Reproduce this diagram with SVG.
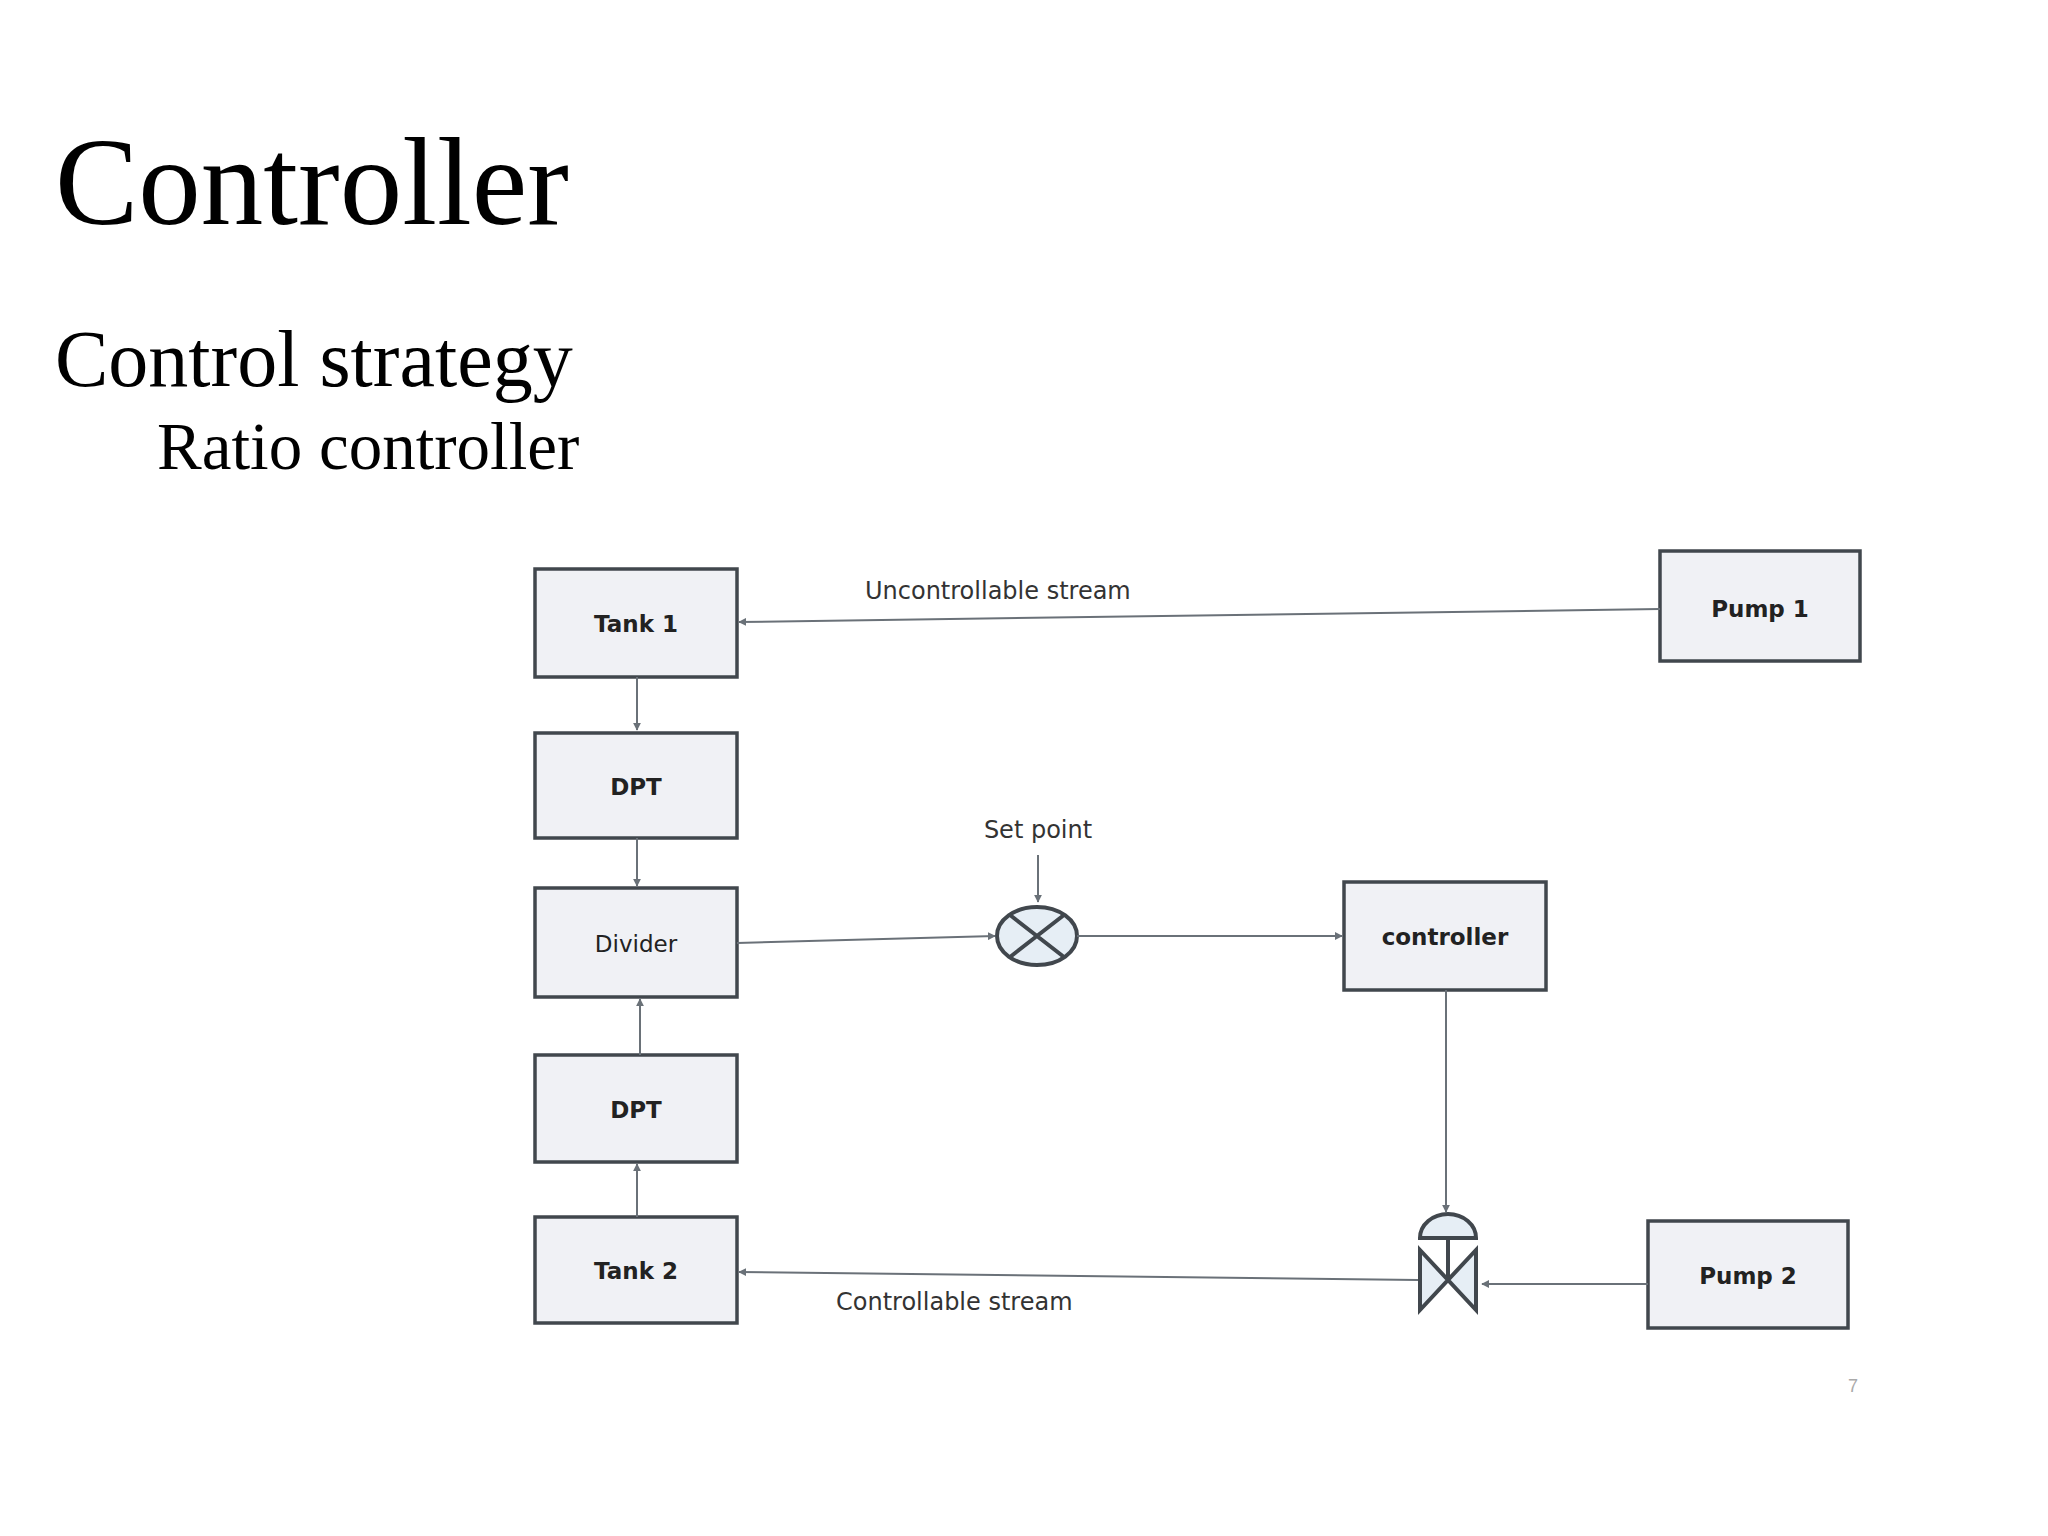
<svg xmlns="http://www.w3.org/2000/svg" width="2048" height="1536" viewBox="0 0 2048 1536">
<defs>
<marker id="ah" viewBox="0 0 10 10" refX="9" refY="5" markerWidth="4" markerHeight="4" orient="auto"><path d="M0,0L10,5L0,10z" fill="#6a7178"/></marker>
<style>
.t{font-family:"Liberation Serif",serif;fill:#000}
.b{fill:#f0f1f5;stroke:#41474d;stroke-width:3.5}
.l{font-family:"DejaVu Sans",sans-serif;font-size:23px;fill:#222;text-anchor:middle;font-weight:bold}
.n{font-weight:normal}
.c{stroke:#6a7178;stroke-width:2;fill:none;marker-end:url(#ah)}
.s{font-family:"DejaVu Sans",sans-serif;font-size:24px;fill:#333}
</style>
</defs>
<rect width="2048" height="1536" fill="#fff"/>
<text class="t" x="55" y="224" font-size="125">Controller</text>
<text class="t" x="55" y="386" font-size="80">Control strategy</text>
<text class="t" x="157" y="469" font-size="67">Ratio controller</text>
<g id="tank1"><rect class="b" x="535" y="569" width="202" height="108"/><text class="l" x="636" y="632">Tank 1</text></g>
<g id="dpt1"><rect class="b" x="535" y="733" width="202" height="105"/><text class="l" x="636" y="795">DPT</text></g>
<g id="divider"><rect class="b" x="535" y="888" width="202" height="109"/><text class="l n" x="636" y="952">Divider</text></g>
<g id="dpt2"><rect class="b" x="535" y="1055" width="202" height="107"/><text class="l" x="636" y="1118">DPT</text></g>
<g id="tank2"><rect class="b" x="535" y="1217" width="202" height="106"/><text class="l" x="636" y="1279">Tank 2</text></g>
<g id="pump1"><rect class="b" x="1660" y="551" width="200" height="110"/><text class="l" x="1760" y="617">Pump 1</text></g>
<g id="controller"><rect class="b" x="1344" y="882" width="202" height="108"/><text class="l" x="1445" y="945">controller</text></g>
<g id="pump2"><rect class="b" x="1648" y="1221" width="200" height="107"/><text class="l" x="1748" y="1284">Pump 2</text></g>
<g id="sum"><ellipse cx="1037" cy="936" rx="40" ry="29" fill="#e6eef5" stroke="#41474d" stroke-width="4"/><path d="M1010,915L1064,957M1064,915L1010,957" stroke="#41474d" stroke-width="4"/></g>
<g id="valve" fill="#e6eef5" stroke="#41474d" stroke-width="4">
<path d="M1420,1238A28,24 0 0 1 1476,1238Z"/>
<path d="M1448,1238V1280"/>
<path d="M1420,1250L1476,1310V1250L1420,1310Z"/>
</g>
<g id="connectors">
<path class="c" d="M1660,609L739,622"/>
<path class="c" d="M637,677V730"/>
<path class="c" d="M637,838V886"/>
<path class="c" d="M640,1055V999"/>
<path class="c" d="M637,1217V1164"/>
<path class="c" d="M737,943L995,936"/>
<path class="c" d="M1077,936H1342"/>
<path class="c" d="M1038,855V902"/>
<path class="c" d="M1446,990V1212"/>
<path class="c" d="M1648,1284H1482"/>
<path class="c" d="M1418,1280L739,1272"/>
</g>
<text class="s" x="865" y="599">Uncontrollable stream</text>
<text class="s" x="1038" y="838" text-anchor="middle">Set point</text>
<text class="s" x="836" y="1310">Controllable stream</text>
<text x="1848" y="1392" font-family="Liberation Sans,sans-serif" font-size="18" fill="#aaa">7</text>
</svg>
